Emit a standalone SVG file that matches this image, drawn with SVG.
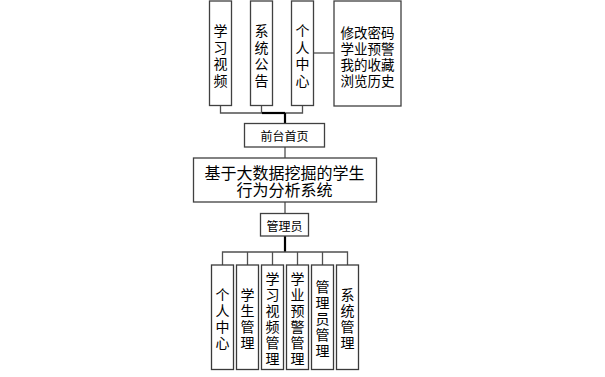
<svg xmlns="http://www.w3.org/2000/svg" width="605" height="377" viewBox="0 0 605 377">
<style>
.box{fill:#fff;stroke:#404040;stroke-width:1.3}
.sbox{fill:#fff;stroke:#3a3a3a;stroke-width:1.3}
.t{font-family:"Noto Sans CJK SC","Noto Sans",sans-serif;fill:#000;text-anchor:middle;dominant-baseline:central}
.v{font-size:14px}
.c{fill:none;stroke:#505050;stroke-width:1.3}
.ck{fill:none;stroke:#000;stroke-width:2.2}
</style>
<rect width="605" height="377" fill="#fff"/>
<g id="connectors">
<polyline class="c" points="220.5,105.5 220.5,113 302.5,113 302.5,105.5"/>
<line class="c" x1="261.5" y1="105.5" x2="261.5" y2="113"/>
<line class="ck" x1="262" y1="113" x2="285" y2="113"/>
<line class="ck" x1="285" y1="113" x2="285" y2="123"/>
<line class="c" x1="313" y1="53" x2="334" y2="53"/>
<line class="c" x1="285" y1="147" x2="285" y2="158"/>
<line class="c" x1="285" y1="202" x2="285" y2="213"/>
<line class="ck" x1="285" y1="236" x2="285" y2="252"/>
<polyline class="c" points="222.5,265 222.5,252 347.5,252 347.5,265"/>
<line class="c" x1="247.5" y1="252" x2="247.5" y2="265"/>
<line class="c" x1="272.5" y1="252" x2="272.5" y2="265"/>
<line class="c" x1="297.5" y1="252" x2="297.5" y2="265"/>
<line class="c" x1="322.5" y1="252" x2="322.5" y2="265"/>
</g>
<g id="n-xxsp"><rect class="box" x="209.5" y="1" width="22" height="104.5"/>
<text class="t v" x="220.5"><tspan y="30">学</tspan><tspan x="220.5" y="46.5">习</tspan><tspan x="220.5" y="63">视</tspan><tspan x="220.5" y="79.5">频</tspan></text></g>
<g id="n-xtgg"><rect class="box" x="250.5" y="1" width="22" height="104.5"/>
<text class="t v" x="261.5"><tspan y="30">系</tspan><tspan x="261.5" y="46.5">统</tspan><tspan x="261.5" y="63">公</tspan><tspan x="261.5" y="79.5">告</tspan></text></g>
<g id="n-grzx"><rect class="box" x="291.5" y="1" width="22" height="104.5"/>
<text class="t v" x="302.5"><tspan y="30">个</tspan><tspan x="302.5" y="46.5">人</tspan><tspan x="302.5" y="63">中</tspan><tspan x="302.5" y="79.5">心</tspan></text></g>
<g id="n-more"><rect class="box" x="334" y="1" width="67" height="105"/>
<text class="t" style="font-size:13.5px" x="367.5"><tspan y="31.5">修改密码</tspan><tspan x="367.5" y="47.5">学业预警</tspan><tspan x="367.5" y="63.5">我的收藏</tspan><tspan x="367.5" y="79.5">浏览历史</tspan></text></g>
<g id="n-qtsy"><rect class="box" x="244.5" y="123.5" width="80" height="23.5"/>
<text class="t" style="font-size:12px" x="284.5" y="135.5">前台首页</text></g>
<g id="n-main"><rect class="box" x="193.5" y="158" width="183" height="44"/>
<text class="t" style="font-size:16px" x="284.5"><tspan y="171.5">基于大数据挖掘的学生</tspan><tspan x="284.5" y="189">行为分析系统</tspan></text></g>
<g id="n-admin"><rect class="box" x="260.5" y="213.5" width="48" height="22.5"/>
<text class="t" style="font-size:12px" x="284.5" y="225">管理员</text></g>
<g id="b1"><rect class="sbox" x="211.5" y="265" width="22" height="104.5"/>
<text class="t v" x="222.5"><tspan y="293.5">个</tspan><tspan x="222.5" y="309.5">人</tspan><tspan x="222.5" y="325.5">中</tspan><tspan x="222.5" y="341.5">心</tspan></text></g>
<g id="b2"><rect class="sbox" x="236.5" y="265" width="22" height="104.5"/>
<text class="t v" x="247.5"><tspan y="293.5">学</tspan><tspan x="247.5" y="309.5">生</tspan><tspan x="247.5" y="325.5">管</tspan><tspan x="247.5" y="341.5">理</tspan></text></g>
<g id="b3"><rect class="sbox" x="261.5" y="265" width="22" height="104.5"/>
<text class="t v" x="272.5"><tspan y="277.5">学</tspan><tspan x="272.5" y="293.5">习</tspan><tspan x="272.5" y="309.5">视</tspan><tspan x="272.5" y="325.5">频</tspan><tspan x="272.5" y="341.5">管</tspan><tspan x="272.5" y="357.5">理</tspan></text></g>
<g id="b4"><rect class="sbox" x="286.5" y="265" width="22" height="104.5"/>
<text class="t v" x="297.5"><tspan y="277.5">学</tspan><tspan x="297.5" y="293.5">业</tspan><tspan x="297.5" y="309.5">预</tspan><tspan x="297.5" y="325.5">警</tspan><tspan x="297.5" y="341.5">管</tspan><tspan x="297.5" y="357.5">理</tspan></text></g>
<g id="b5"><rect class="sbox" x="311.5" y="265" width="22" height="104.5"/>
<text class="t v" x="322.5"><tspan y="285.5">管</tspan><tspan x="322.5" y="301.5">理</tspan><tspan x="322.5" y="317.5">员</tspan><tspan x="322.5" y="333.5">管</tspan><tspan x="322.5" y="349.5">理</tspan></text></g>
<g id="b6"><rect class="sbox" x="336.5" y="265" width="22" height="104.5"/>
<text class="t v" x="347.5"><tspan y="293.5">系</tspan><tspan x="347.5" y="309.5">统</tspan><tspan x="347.5" y="325.5">管</tspan><tspan x="347.5" y="341.5">理</tspan></text></g>
</svg>
